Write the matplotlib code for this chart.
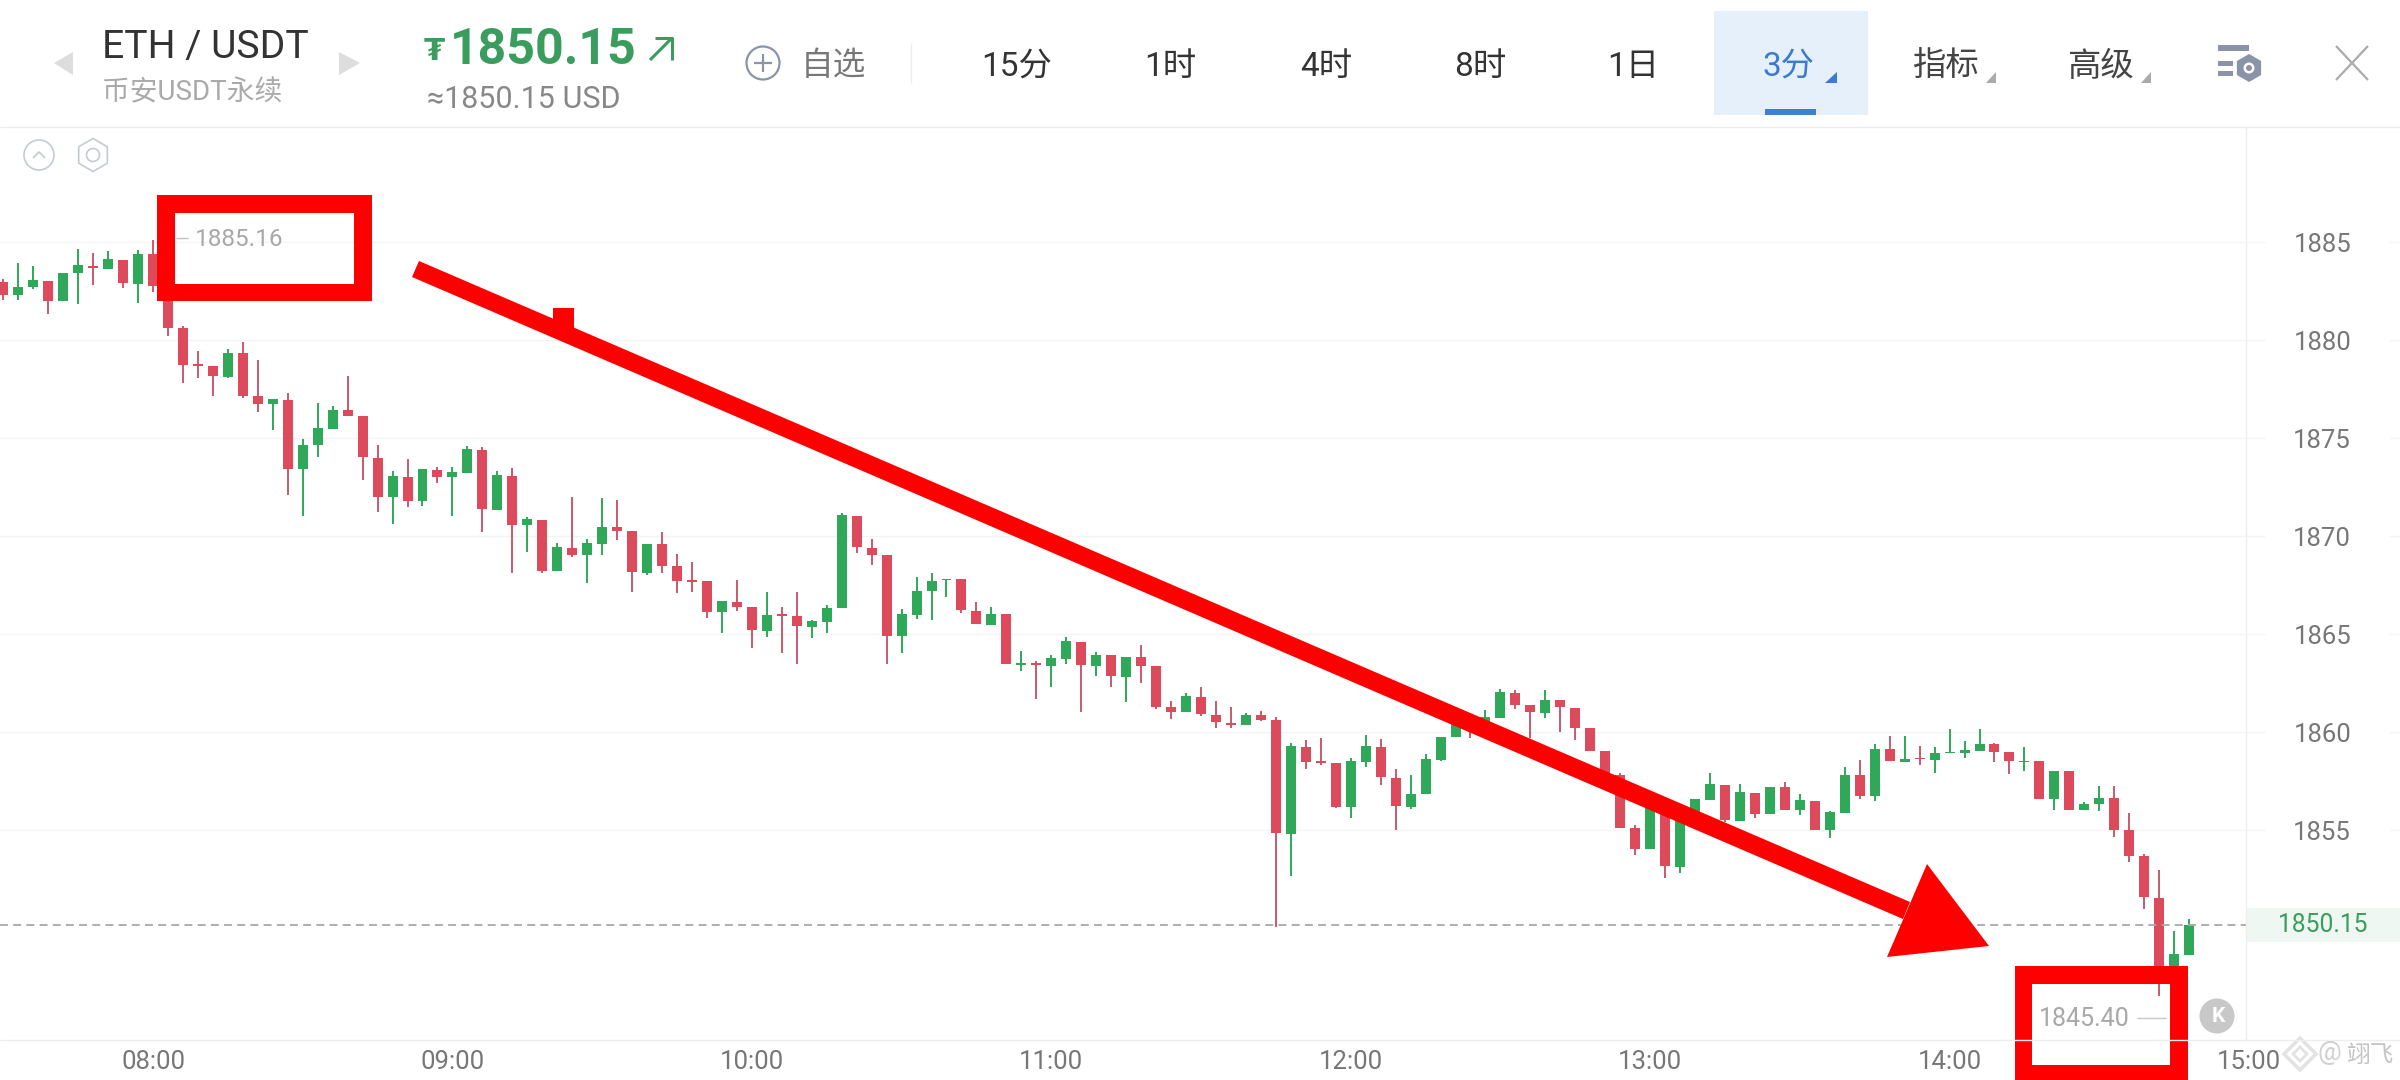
import matplotlib
matplotlib.use("Agg")
import matplotlib.pyplot as plt
from matplotlib.patches import Polygon, Rectangle, Circle, RegularPolygon
import numpy as np

plt.rcParams['font.family'] = ['Roboto', 'Noto Sans CJK SC', 'DejaVu Sans']

# 3 minute candles, the first one is 07:30, g = rising, r = falling
directions = ("rggrggrgrg" "rrrrrgrrgr" "gggrrrgrgr" "ggrgrgrgrg" "grrgrrrrgr"
              "rgrrgggrrr" "ggggrrgrgr" "ggrgrgrrrg" "rrrgrrgrrr" "ggrrggggrg"
              "grrgrrrrrr" "grgggrgrgr" "grggrgrgrg" "gggrrgrgrg" "grrrrgg")
highs = [
    1883.14, 1883.94, 1883.77, 1883.02, 1883.43, 1884.66, 1884.42, 1884.52, 1884.11, 1884.59,
    1885.13, 1882.75, 1880.71, 1879.45, 1878.67, 1879.55, 1879.89, 1878.98, 1876.97, 1877.28,
    1874.95, 1876.77, 1876.63, 1878.19, 1876.14, 1874.64, 1873.33, 1873.91, 1873.40, 1873.50,
    1873.50, 1874.59, 1874.56, 1873.33, 1873.45, 1870.95, 1870.82, 1869.63, 1871.99, 1869.87,
    1871.94, 1871.84, 1870.24, 1869.58, 1870.21, 1869.08, 1868.69, 1867.69, 1866.67, 1867.74,
    1866.36, 1867.16, 1866.40, 1867.16, 1865.72, 1866.47, 1871.16, 1871.02, 1869.83, 1869.02,
    1866.30, 1867.93, 1868.10, 1867.83, 1867.79, 1866.65, 1866.36, 1866.01, 1864.14, 1863.61,
    1863.91, 1864.87, 1864.60, 1864.10, 1863.91, 1863.85, 1864.43, 1863.37, 1861.60, 1862.01,
    1862.32, 1861.59, 1861.29, 1860.95, 1861.05, 1860.78, 1859.42, 1859.59, 1859.69, 1858.43,
    1858.70, 1859.83, 1859.66, 1858.14, 1857.82, 1858.87, 1859.76, 1860.78, 1860.69, 1861.12,
    1862.22, 1862.17, 1861.39, 1862.14, 1861.63, 1861.25, 1860.23, 1859.06, 1857.89, 1855.27,
    1856.53, 1856.10, 1855.68, 1856.58, 1857.92, 1857.31, 1857.34, 1856.90, 1857.22, 1857.45,
    1856.83, 1856.48, 1855.98, 1858.23, 1858.57, 1859.37, 1859.79, 1859.79, 1859.30, 1859.25,
    1860.18, 1859.57, 1860.18, 1859.42, 1858.96, 1859.22, 1858.50, 1858.02, 1857.99, 1856.41,
    1857.26, 1857.26, 1855.85, 1853.77, 1852.96, 1849.83, 1850.44,
]
body_tops = [
    1882.97, 1882.72, 1883.06, 1883.02, 1883.43, 1883.81, 1883.77, 1884.13, 1884.11, 1884.37,
    1884.37, 1882.75, 1880.61, 1878.76, 1878.67, 1879.35, 1879.35, 1877.14, 1876.97, 1876.94,
    1874.67, 1875.51, 1876.43, 1876.41, 1876.14, 1873.98, 1873.06, 1873.02, 1873.40, 1873.37,
    1873.25, 1874.42, 1874.39, 1873.10, 1873.06, 1870.85, 1870.82, 1869.44, 1869.39, 1869.63,
    1870.48, 1870.46, 1870.24, 1869.58, 1869.58, 1868.47, 1867.76, 1867.69, 1866.67, 1866.63,
    1866.36, 1865.97, 1866.02, 1865.92, 1865.65, 1866.35, 1871.06, 1871.02, 1869.39, 1869.02,
    1866.02, 1867.21, 1867.72, 1867.83, 1867.79, 1866.18, 1866.02, 1866.01, 1863.54, 1863.51,
    1863.78, 1864.65, 1864.60, 1863.95, 1863.91, 1863.85, 1863.81, 1863.37, 1861.30, 1861.82,
    1861.81, 1860.88, 1860.47, 1860.88, 1860.86, 1860.61, 1859.28, 1859.25, 1858.53, 1858.43,
    1858.52, 1859.28, 1859.25, 1857.68, 1856.83, 1858.64, 1859.76, 1860.69, 1860.61, 1860.78,
    1862.04, 1862.00, 1861.39, 1861.63, 1861.63, 1861.25, 1860.23, 1859.06, 1857.79, 1855.10,
    1856.36, 1856.10, 1855.68, 1856.58, 1857.34, 1857.31, 1856.94, 1856.90, 1857.22, 1857.21,
    1856.53, 1856.48, 1855.92, 1857.82, 1857.80, 1859.15, 1859.13, 1858.65, 1858.70, 1858.91,
    1858.98, 1859.11, 1859.38, 1859.37, 1858.96, 1858.55, 1858.50, 1858.02, 1857.99, 1856.31,
    1856.66, 1856.63, 1855.00, 1853.67, 1851.56, 1848.67, 1850.15,
]
body_bottoms = [
    1882.29, 1882.29, 1882.72, 1882.00, 1881.99, 1883.43, 1883.67, 1883.64, 1882.89, 1882.85,
    1882.75, 1880.64, 1878.72, 1878.67, 1878.16, 1878.13, 1877.14, 1876.75, 1876.73, 1873.43,
    1873.40, 1874.66, 1875.47, 1876.15, 1874.01, 1872.00, 1872.00, 1871.80, 1871.79, 1873.03,
    1872.99, 1873.20, 1871.36, 1871.33, 1870.58, 1870.55, 1868.23, 1868.20, 1869.05, 1869.05,
    1869.59, 1870.26, 1868.16, 1868.13, 1868.49, 1867.71, 1867.67, 1866.14, 1866.12, 1866.36,
    1865.21, 1865.15, 1865.94, 1865.41, 1865.38, 1865.62, 1866.31, 1869.43, 1869.05, 1864.92,
    1864.90, 1865.99, 1867.21, 1867.76, 1866.21, 1865.51, 1865.48, 1863.49, 1863.44, 1863.42,
    1863.39, 1863.74, 1863.42, 1863.39, 1862.84, 1862.81, 1863.39, 1861.30, 1861.02, 1861.01,
    1860.90, 1860.49, 1860.37, 1860.34, 1860.61, 1854.86, 1854.81, 1858.48, 1858.40, 1856.19,
    1856.19, 1858.48, 1857.72, 1856.24, 1856.20, 1856.82, 1858.58, 1859.76, 1860.18, 1860.10,
    1860.74, 1861.39, 1861.02, 1860.98, 1861.29, 1860.23, 1859.06, 1857.80, 1855.10, 1854.01,
    1854.01, 1853.16, 1853.13, 1855.51, 1856.53, 1855.51, 1855.47, 1855.81, 1855.80, 1856.02,
    1856.00, 1855.01, 1855.00, 1855.88, 1856.73, 1856.73, 1858.52, 1858.48, 1858.62, 1858.60,
    1858.91, 1858.91, 1859.04, 1858.98, 1858.52, 1858.48, 1856.60, 1856.58, 1856.03, 1856.02,
    1856.31, 1855.01, 1853.69, 1851.60, 1847.85, 1847.77, 1848.64,
]
lows = [
    1882.07, 1882.07, 1882.63, 1881.31, 1881.99, 1881.83, 1882.80, 1883.64, 1882.67, 1881.87,
    1882.46, 1880.22, 1877.79, 1878.06, 1877.14, 1878.06, 1877.07, 1876.34, 1875.41, 1872.11,
    1871.02, 1874.01, 1875.47, 1876.15, 1872.85, 1871.24, 1870.64, 1871.49, 1871.53, 1872.72,
    1871.02, 1873.20, 1870.21, 1871.33, 1868.13, 1869.18, 1868.13, 1868.20, 1868.95, 1867.62,
    1869.01, 1869.80, 1867.16, 1868.03, 1868.13, 1867.08, 1867.16, 1865.82, 1865.07, 1866.19,
    1864.27, 1864.83, 1864.05, 1863.47, 1864.80, 1865.04, 1866.31, 1869.12, 1868.52, 1863.47,
    1864.02, 1865.75, 1865.72, 1866.91, 1866.09, 1865.51, 1865.48, 1863.49, 1863.13, 1861.67,
    1862.32, 1863.47, 1861.04, 1862.86, 1862.28, 1861.55, 1862.52, 1861.16, 1860.65, 1861.01,
    1860.82, 1860.23, 1860.23, 1860.34, 1860.54, 1850.06, 1852.68, 1858.11, 1858.30, 1856.14,
    1855.64, 1858.23, 1857.31, 1855.00, 1856.07, 1856.82, 1858.53, 1859.76, 1859.72, 1859.76,
    1860.74, 1861.17, 1859.72, 1860.74, 1860.00, 1859.59, 1859.06, 1857.80, 1855.10, 1853.74,
    1854.01, 1852.55, 1852.82, 1855.51, 1856.53, 1855.42, 1855.47, 1855.64, 1855.80, 1856.02,
    1855.78, 1855.01, 1854.61, 1855.88, 1856.61, 1856.46, 1858.52, 1858.48, 1858.31, 1857.89,
    1858.91, 1858.70, 1859.04, 1858.45, 1857.85, 1858.02, 1856.58, 1856.02, 1856.03, 1856.02,
    1855.97, 1854.66, 1853.35, 1850.95, 1846.54, 1847.77, 1848.64,
]

time_labels = ["08:00", "09:00", "10:00", "11:00", "12:00", "13:00", "14:00", "15:00"]
time_minutes = [0, 60, 120, 180, 240, 300, 360, 420]
price_ticks = [1855, 1860, 1865, 1870, 1875, 1880, 1885]
last_price = 1850.15

period_tabs = ["15分", "1时", "4时", "8时", "1日"]
period_tab_x = [1017, 1170, 1326, 1480, 1633]

W, H = 2400, 1080
RED = "#dc4a5c"
RED_WICK = "#c85a6c"
GREEN = "#2fa85a"
ICON = "#8a94a6"

fig = plt.figure(figsize=(24, 10.8), dpi=100, facecolor="white")

# price chart, 4.99px per minute and 19.6px per dollar
ax = fig.add_axes([0, 40 / H, 2250 / W, 912 / H])
ax.set_xlim(-30.66, 420.2)
ax.set_ylim(1844.29, 1890.82)
for spine in ax.spines.values():
    spine.set_visible(False)

minutes = np.arange(len(highs)) * 3 - 30
body_tops = np.array(body_tops)
body_bottoms = np.array(body_bottoms)
body_colors = [GREEN if d == "g" else RED for d in directions]
wick_colors = [GREEN if d == "g" else RED_WICK for d in directions]

ax.vlines(minutes, lows, highs, colors=wick_colors, linewidth=1.4, zorder=3)
ax.bar(minutes, body_tops - body_bottoms, bottom=body_bottoms, width=2.0,
       color=body_colors, linewidth=0, zorder=4)

# last price line
ax.hlines(last_price, -30.66, 419.4, colors="#a8a8a8", linewidth=1.3,
          linestyles=(0, (4.4, 2.9)), zorder=5)

ax.set_yticks(price_ticks)
ax.yaxis.tick_right()
ax.tick_params(axis="y", length=0, pad=52, labelsize=18.5, labelcolor="#777777")
for lab in ax.get_yticklabels():
    lab.set_ha("center")
ax.grid(axis="y", color="#f4f4f4", linewidth=1)
ax.set_axisbelow(True)
ax.set_xticks(time_minutes, time_labels)
ax.tick_params(axis="x", length=0, pad=7, labelsize=18.5, labelcolor="#777777")

# short pieces of the grid lines on the price panel
ytrans = ax.get_yaxis_transform()
for p in price_ticks:
    ax.plot([1.0, 1.006], [p, p], transform=ytrans, color="#f4f4f4", lw=1, clip_on=False)
    ax.plot([1.062, 1.067], [p, p], transform=ytrans, color="#f4f4f4", lw=1, clip_on=False)

ax.add_patch(Rectangle((0.9982, last_price - 0.87), 0.07, 1.74, transform=ytrans,
                       facecolor="#eef7f1", edgecolor="none", clip_on=False, zorder=1))
ax.text(1.0324, last_price, f"{last_price:.2f}", transform=ytrans, color="#3a9d5d",
        fontsize=17.7, ha="center", va="center")

# everything else is the app's frame, drawn in screen pixels
ov = fig.add_axes([0, 0, 1, 1], zorder=10)
ov.set_xlim(0, W)
ov.set_ylim(H, 0)
ov.axis("off")
ov.patch.set_alpha(0)


def label(x, y, s, size, color, ha="center", **kw):
    ov.text(x, y, s, fontsize=size, color=color, ha=ha, va="center", **kw)


def line(xs, ys, color, lw=1.5):
    ov.plot(xs, ys, color=color, lw=lw, solid_capstyle="butt")


def poly(pts, color):
    ov.add_patch(Polygon(pts, closed=True, facecolor=color, edgecolor="none"))


line([0, W], [127, 127], "#eeeeee", 1)
line([0, W], [1040, 1040], "#eeeeee", 1)
line([2246, 2246], [127, 1040], "#eeeeee", 1)

# symbol and price
poly([(73, 52), (73, 75), (54, 63)], "#dddddd")
poly([(339, 52), (339, 75), (360, 63)], "#dddddd")
label(102, 48, "ETH / USDT", 28.2, "#333333", ha="left")
label(102, 93, "币安USDT永续", 20, "#aaaaaa", ha="left")
label(424, 51, "₮", 22, "#3a9d5d", ha="left", family="DejaVu Sans", weight="bold")
label(450, 50, "1850.15", 36, "#3a9d5d", ha="left", weight="bold")
line([650, 672], [60, 38], "#3a9d5d", 2.2)
line([655, 672, 672], [38, 38, 60], "#3a9d5d", 2.2)
label(427, 100, "≈1850.15 USD", 22, "#888888", ha="left")

# favourite button
ov.add_patch(Circle((763, 63), 16.5, facecolor="none", edgecolor=ICON, lw=1.6))
line([754, 772], [63, 63], ICON, 1.6)
line([763, 763], [54, 72], ICON, 1.6)
label(833, 66, "自选", 23.5, "#777777")
line([911, 911], [43, 83], "#eeeeee", 1)

# period tabs
for s, x in zip(period_tabs, period_tab_x):
    label(x, 67, s, 24, "#333333")
ov.add_patch(Rectangle((1714, 11), 154, 104, facecolor="#e6f0fb", edgecolor="none"))
ov.add_patch(Rectangle((1765, 109), 51, 6, facecolor="#3f7fd0", edgecolor="none"))
label(1789, 67, "3分", 24, "#3a7bd0")
poly([(1837, 72), (1837, 83), (1825, 83)], "#3a7bd0")
label(1946, 67, "指标", 24, "#444444")
poly([(1996, 72), (1996, 83), (1986, 83)], "#aaaaaa")
label(2100, 67, "高级", 24, "#444444")
poly([(2151, 72), (2151, 83), (2141, 83)], "#aaaaaa")

# settings icon and close
ov.add_patch(Rectangle((2218, 45), 31, 6, facecolor=ICON, edgecolor="none"))
ov.add_patch(Rectangle((2218, 61), 15, 5, facecolor=ICON, edgecolor="none"))
ov.add_patch(Rectangle((2218, 71), 15, 5, facecolor=ICON, edgecolor="none"))
ov.add_patch(RegularPolygon((2249, 68), 6, radius=14, facecolor=ICON, edgecolor="none"))
ov.add_patch(Circle((2249, 68), 5.5, facecolor="white", edgecolor="none"))
ov.add_patch(Circle((2249, 68), 3, facecolor=ICON, edgecolor="none"))
line([2336, 2368], [46, 80], "#aaaaaa", 1.6)
line([2336, 2368], [80, 46], "#aaaaaa", 1.6)

# small icons at the top left of the chart
ov.add_patch(Circle((39, 155), 15, facecolor="none", edgecolor="#c5cbd3", lw=1.2))
line([33, 39, 45], [158, 152, 158], "#c5cbd3", 1.2)
ov.add_patch(RegularPolygon((93, 155), 6, radius=16.5, facecolor="none", edgecolor="#c5cbd3", lw=1.2))
ov.add_patch(Circle((93, 155), 6.5, facecolor="none", edgecolor="#c5cbd3", lw=1.2))

# high and low labels
line([176, 188], [238, 238], "#c0c0c0", 1)
label(195, 240, "1885.16", 17.5, "#a8a8a8", ha="left")
label(2039, 1019, "1845.40", 18, "#a8a8a8", ha="left")
line([2137, 2166], [1018, 1018], "#c8c8c8", 1)

# back to latest button
ov.add_patch(Circle((2217, 1016), 17.5, facecolor="#c8c8c8", edgecolor="none"))
label(2218, 1016, "K", 15, "white", weight="bold")

# watermark
ov.add_patch(Polygon([(2300, 1038), (2316, 1054), (2300, 1070), (2284, 1054)], closed=True,
                     facecolor="none", edgecolor="#e2e2e2", lw=2.5))
ov.add_patch(Polygon([(2300, 1047), (2307, 1054), (2300, 1061), (2293, 1054)], closed=True,
                     facecolor="none", edgecolor="#e2e2e2", lw=2))
label(2329, 1053, "@", 19, "#d0d0d0")
label(2347, 1055, "翊飞", 17, "#c4c4c4", ha="left", clip_on=True)

# red markup on top of the screenshot
RED_MARK = "#ff0000"
poly([(419, 261), (1910, 902), (1903, 919), (412, 277)], RED_MARK)
poly([(553, 308), (574, 308), (574, 332), (553, 326)], RED_MARK)
poly([(1927, 864), (1989, 946), (1887, 957)], RED_MARK)

for x0, y0, x1, y1, x2, y2, x3, y3 in [(157, 195, 372, 301, 175, 213, 354, 284),
                                        (2015, 966, 2188, 1080, 2032, 984, 2170, 1065)]:
    ov.add_patch(Rectangle((x0, y0), x1 - x0, y2 - y0, facecolor=RED_MARK, edgecolor="none"))
    ov.add_patch(Rectangle((x0, y3), x1 - x0, y1 - y3, facecolor=RED_MARK, edgecolor="none"))
    ov.add_patch(Rectangle((x0, y0), x2 - x0, y1 - y0, facecolor=RED_MARK, edgecolor="none"))
    ov.add_patch(Rectangle((x3, y0), x1 - x3, y1 - y0, facecolor=RED_MARK, edgecolor="none"))

fig.savefig("out.png", dpi=100)
